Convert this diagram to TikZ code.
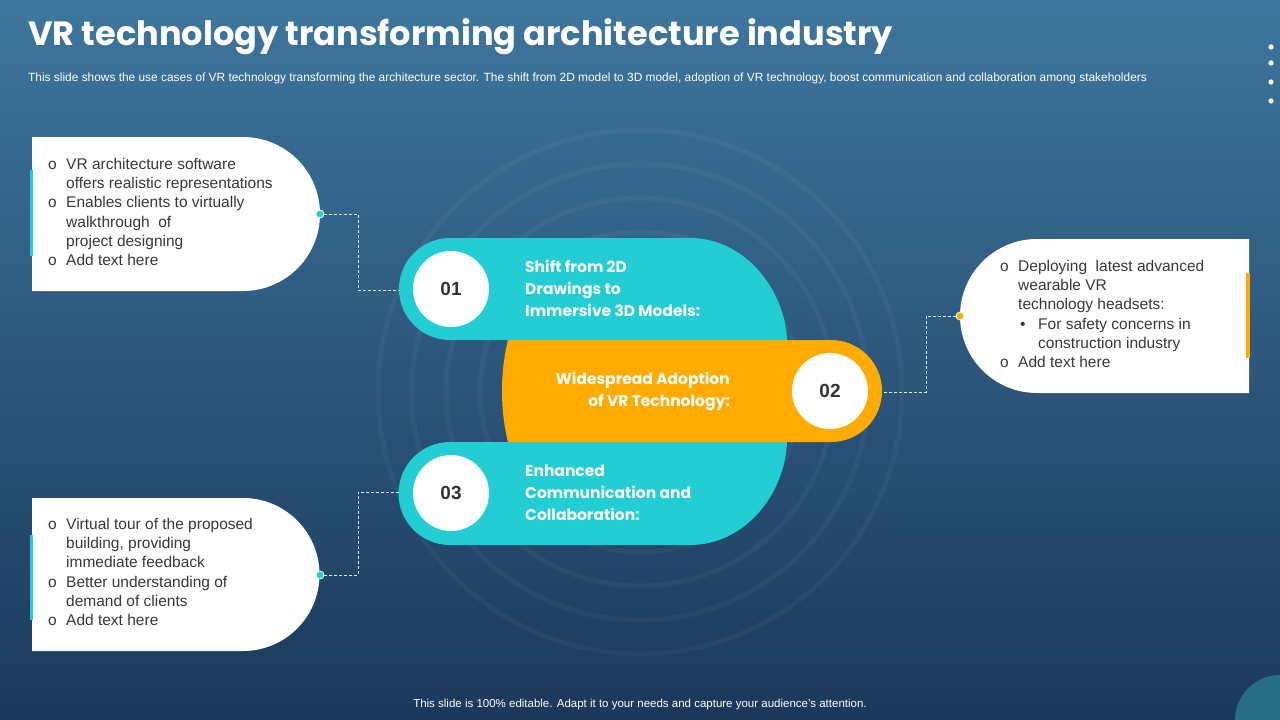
\documentclass[tikz,border=0pt]{standalone}
\usepackage{fontspec}
\setmainfont{Liberation Sans}
\newfontfamily\pop{Poppins}
\newcommand\bo{\makebox[18pt][l]{o}}
\newcommand\bi{\hspace*{18pt}}
\begin{document}
\begin{tikzpicture}[x=1pt,y=-1pt,
  wbox/.style={fill=white},
  body/.style={font=\fontsize{15.5}{19.2}\selectfont,text=black!78,align=left,anchor=north west,inner sep=0pt},
  head/.style={font=\pop\bfseries\fontsize{15.5}{22}\selectfont,text=white,inner sep=0pt},
  num/.style={circle,fill=white,minimum size=76pt,inner sep=0pt,font=\bfseries\fontsize{19}{19}\selectfont,text=black!80},
  dot/.style={circle,fill=#1,draw=white,line width=0.8pt,minimum size=8pt,inner sep=0pt},
  conn/.style={white!85!cyan,dashed,dash pattern=on 3pt off 2pt,line width=0.7pt},
  ring/.style={draw=white,opacity=0.04,line width=5pt}]
\definecolor{teal1}{HTML}{22CED3}
\definecolor{orng}{HTML}{FFAB00}
\useasboundingbox (0,0) rectangle (1280,720);
\shade[top color={rgb,255:red,62;green,118;blue,157},bottom color={rgb,255:red,27;green,56;blue,90}] (0,0) rectangle (1280,720);
\fill[fill={rgb,255:red,40;green,110;blue,130}] (1280,720) circle (45);
\foreach \r in {262,228,194,160} \draw[ring] (640,392) circle (\r);
\foreach \y in {47,63,82,101} \fill[white] (1271,\y) circle (2.6);
\node[anchor=west,inner sep=0pt,text=white,font=\pop\bfseries\fontsize{33.6}{36}\selectfont] (title) at (28,37) {VR technology transforming architecture industry};
\node[anchor=west,inner sep=0pt,text=white,font=\fontsize{11.9}{13}\selectfont] (sub) at (28,78) {This slide shows the use cases of VR technology transforming the architecture sector. The shift from 2D model to 3D model, adoption of VR technology, boost communication and collaboration among stakeholders};
\node[inner sep=0pt,text=white,font=\fontsize{11.5}{13}\selectfont] (foot) at (640,705) {This slide is 100\% editable. Adapt it to your needs and capture your audience's attention.};
% central shapes
\fill[teal1] (450,238) -- (690,238) .. controls (745,238) and (785,290) .. (787,340) -- (450,340) arc[start angle=90,end angle=270,radius=51] -- cycle;
\fill[teal1] (450,442) -- (787,442) .. controls (785,494) and (745,545) .. (690,545) -- (450,545) arc[start angle=90,end angle=270,radius=51.5] -- cycle;
\fill[orng] (508,340) -- (831,340) arc[start angle=-90,end angle=90,radius=51] -- (508,442) .. controls (500,410) and (500,372) .. (508,340) -- cycle;
\node[num] (n1) at (451,289) {01};
\node[num] (n2) at (830,391) {02};
\node[num] (n3) at (451,493) {03};
\node[head,anchor=west,align=left] (h1) at (525,288) {Shift from 2D\\Drawings to\\Immersive 3D Models:};
\node[head,anchor=east,align=right] (h2) at (730,391) {Widespread Adoption\\of VR Technology:};
\node[head,anchor=west,align=left] (h3) at (525,493) {Enhanced\\Communication and\\Collaboration:};
% boxes
\fill[wbox] (32,137) -- (243,137) arc[start angle=-90,end angle=90,radius=77] -- (32,291) -- cycle;
\fill[teal1] (30,170) rectangle (33,256);
\fill[wbox] (32,498) -- (243,498) arc[start angle=-90,end angle=90,radius=76.5] -- (32,651) -- cycle;
\fill[teal1] (30,535) rectangle (33,620);
\fill[wbox] (1249,239) -- (1037,239) arc[start angle=-90,end angle=-270,radius=77] -- (1249,393) -- cycle;
\fill[orng] (1246,273) rectangle (1250,358);
\node[body] (t1) at (48,158) {\bo VR architecture software\\\bi offers realistic representations\\\bo Enables clients to virtually\\\bi walkthrough\ \ of\\\bi project designing\\\bo Add text here};
\node[body] (t3) at (48,518) {\bo Virtual tour of the proposed\\\bi building, providing\\\bi immediate feedback\\\bo Better understanding of\\\bi demand of clients\\\bo Add text here};
\node[body] (t2) at (1000,260) {\bo Deploying\ \ latest advanced\\\bi wearable VR\\\bi technology headsets:\\\hspace*{20pt}\makebox[18pt][l]{\textbullet}For safety concerns in\\\hspace*{38pt}construction industry\\\bo Add text here};
% connectors
\node[dot=teal1] (d1) at (320,214) {};
\node[dot=teal1] (d3) at (320,575) {};
\node[dot=orng] (d2) at (960,316) {};
\draw[conn] (d1) -- (358,214) -- (358,290) -- (400,290);
\draw[conn] (d3) -- (358,575) -- (358,492) -- (400,492);
\draw[conn] (d2) -- (926,316) -- (926,392) -- (882,392);
\end{tikzpicture}
\end{document}
